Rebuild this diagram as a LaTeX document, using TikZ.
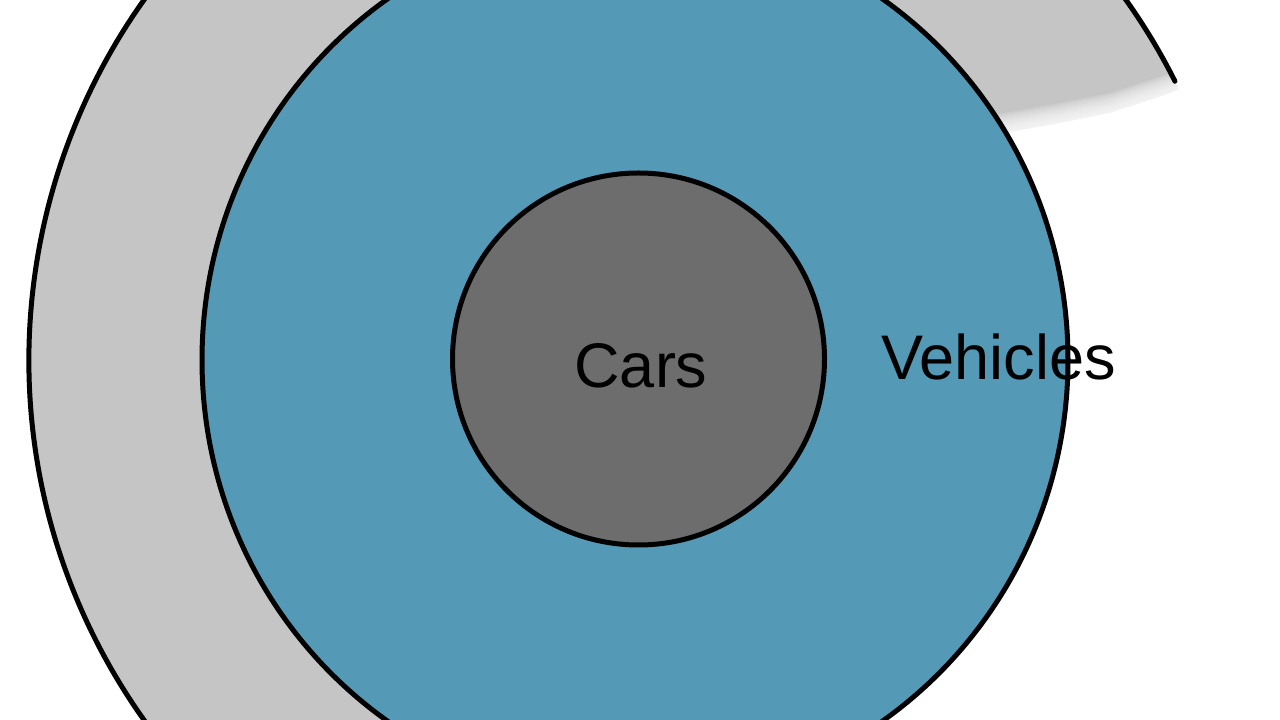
\documentclass[tikz,border=0pt]{standalone}
\usepackage{fontspec}
\setmainfont{Liberation Sans}
\definecolor{ringgray}{RGB}{197,197,197}
\definecolor{vehblue}{RGB}{84,153,181}
\definecolor{cargray}{RGB}{109,109,109}
\begin{document}
\begin{tikzpicture}[x=1pt,y=1pt,
  outline/.style={draw=black,line width=5pt},
  label/.style={font=\fontsize{63}{70}\selectfont,text=black,inner sep=0pt,anchor=base}]
\useasboundingbox (0,0) rectangle (1280,720);
\clip (0,0) rectangle (1280,720);
\fill[white] (0,0) rectangle (1280,720);
\coordinate (c) at (635,360);
\coordinate (ci) at (638.5,361);
% outer gray ring (partially revealed by a wipe)
\begin{scope}
\clip (c) ellipse[x radius=606, y radius=614];
\fill[ringgray] (c) ellipse[x radius=606, y radius=614];
\foreach \s in {0,-2,...,-18}{
  \fill[white,opacity=0.16] (985,{604+\s}) -- (1010,{608+\s}) -- (1060,{617+\s}) -- (1110,{627+\s})
    -- (1165,{645+\s}) -- (1280,{690+\s}) -- (1280,0) -- (800,0) -- (800,560) -- cycle;
}
\end{scope}
\fill[white] (985,{604-20}) -- (1010,{608-20}) -- (1060,{617-20}) -- (1110,{627-20})
    -- (1165,{645-20}) -- (1280,{690-20}) -- (1280,0) -- (800,0) -- (800,560) -- cycle;
\draw[outline,line cap=round] (c) ++(27:606 and 614) arc[start angle=27,end angle=290,x radius=606,y radius=614];
% vehicles circle
\fill[vehblue] (c) ellipse[x radius=433, y radius=440];
\draw[outline] (c) ellipse[x radius=433, y radius=440];
% cars circle
\fill[cargray] (ci) circle[radius=186];
\draw[outline] (ci) circle[radius=186];
\node[label] (cars) at (641,332) {Cars};
\node[label] (vehicles) at (998.5,340) {Vehicles};
\end{tikzpicture}
\end{document}
